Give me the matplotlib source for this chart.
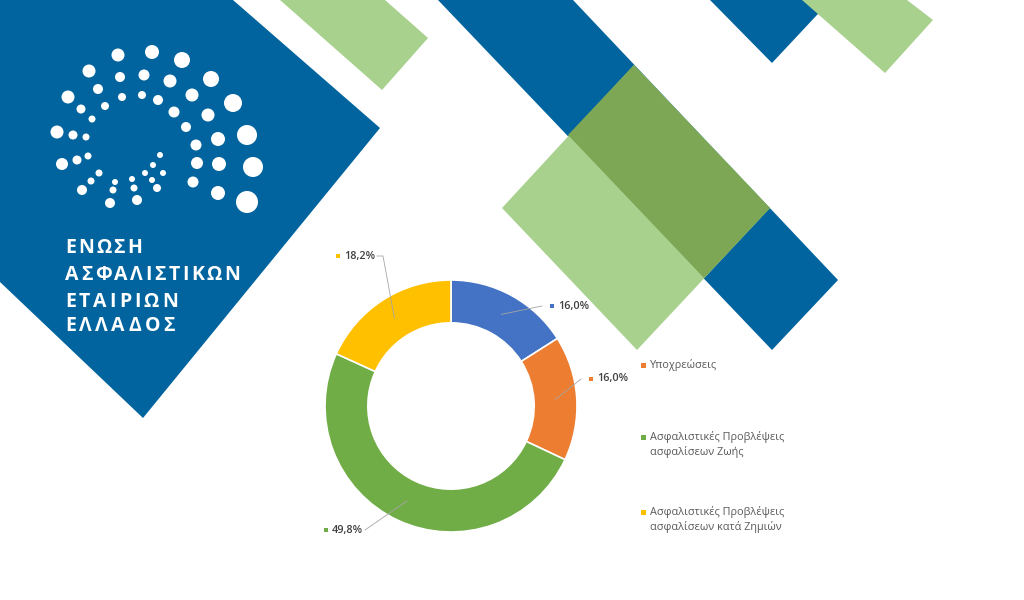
import numpy as np
import matplotlib
matplotlib.use("Agg")
import matplotlib.pyplot as plt
from matplotlib.patches import Polygon, Circle, Rectangle

# ---------------- data ----------------
categories = ["Ίδια Κεφάλαια", "Υποχρεώσεις",
              "Ασφαλιστικές Προβλέψεις\nασφαλίσεων Ζωής",
              "Ασφαλιστικές Προβλέψεις\nασφαλίσεων κατά Ζημιών"]
values = [16.0, 16.0, 49.8, 18.2]
value_labels = ["16,0%", "16,0%", "49,8%", "18,2%"]
colors = ["#4472C4", "#ED7D31", "#70AD47", "#FFC000"]
legend_visible = [False, True, True, True]   # first entry is hidden behind the artwork

logo_lines = ["ΕΝΩΣΗ", "ΑΣΦΑΛΙΣΤΙΚΩΝ", "ΕΤΑΙΡΙΩΝ", "ΕΛΛΑΔΟΣ"]

# ---------------- layout (pixels, y down) ----------------
W, H = 1024, 600
DPI = 100
plt.rcParams['font.family'] = ['Open Sans', 'DejaVu Sans']

fig = plt.figure(figsize=(W / DPI, H / DPI), dpi=DPI)
fig.patch.set_facecolor("white")

# donut axes
cx, cy, R = 451, 406, 126
ax = fig.add_axes([(cx - R) / W, (H - cy - R) / H, 2 * R / W, 2 * R / H])
ring = 0.34
wedges, _ = ax.pie(values, colors=colors, startangle=90, counterclock=False,
                   radius=1.0, wedgeprops=dict(width=ring, edgecolor="white", linewidth=1.2))
ax.set_xlim(-1, 1)
ax.set_ylim(-1, 1)
ax.set_aspect("equal")
ax.axis("off")

# data labels (label anchor position in pixel coords, side)
label_pos = [(558, 306, "right"), (597, 379, "right"), (332, 530, "left"), (344, 256, "left")]
mid_r = 1 - ring / 2

def px2d(x, y):
    return (x - cx) / R, (cy - y) / R

for w, lab, col, (lx, ly, side) in zip(wedges, value_labels, colors, label_pos):
    ang = np.deg2rad((w.theta1 + w.theta2) / 2)
    sx, sy = mid_r * np.cos(ang), mid_r * np.sin(ang)
    tx, ty = px2d(lx, ly)
    ax.text(tx, ty, lab, fontsize=7.8, color="#404040", fontweight="semibold",
            ha="left", va="center", clip_on=False)
    mx, my = px2d(lx - 6, ly)
    ax.add_patch(Rectangle((mx - 2.2 / R, my - 2.2 / R), 4.4 / R, 4.4 / R,
                           facecolor=col, edgecolor="none", clip_on=False))
    if side == "right":
        ex, ey = px2d(lx - 16, ly)
        ax.plot([sx, ex], [sy, ey], color="#A6A6A6", lw=0.6, clip_on=False)
    else:
        ex, ey = px2d(lx + 33, ly)
        if sy > 0:
            kx, ky = px2d(lx + 39, ly)
            ax.plot([sx, kx, ex], [sy, ky, ey], color="#A6A6A6", lw=0.6, clip_on=False)
        else:
            ax.plot([sx, ex], [sy, ey], color="#A6A6A6", lw=0.6, clip_on=False)

# legend (custom)
leg_x = 643
leg_y = [292, 365, 437, 512]
for cat, col, y, vis in zip(categories, colors, leg_y, legend_visible):
    if not vis:
        continue
    lines = cat.split("\n")
    fig.patches.append(Rectangle(((leg_x - 2.5) / W, (H - y - 2.5) / H), 5 / W, 5 / H,
                                 facecolor=col, edgecolor="none", transform=fig.transFigure,
                                 figure=fig))
    for i, ln in enumerate(lines):
        fig.text((leg_x + 7) / W, (H - (y + i * 15)) / H, ln, fontsize=7.8,
                 color="#595959", ha="left", va="center")

# ---------------- decorative background (on top, pixel coords) ----------------
bg = fig.add_axes([0, 0, 1, 1], zorder=5)
bg.set_xlim(0, W)
bg.set_ylim(H, 0)
bg.axis("off")
bg.patch.set_alpha(0)

BLUE = "#02649E"
LGREEN = "#A9D18E"
DGREEN = "#7EA755"

shapes = [
    ([(0, 0), (233, 0), (380, 128), (143, 418), (0, 282)], BLUE),
    ([(280, 0), (385, 0), (428, 38), (382, 90)], LGREEN),
    ([(438, 0), (573, 0), (838, 280), (772, 350)], BLUE),
    ([(502, 208), (634, 65), (770, 208), (637, 350)], LGREEN),
    ([(634, 65), (770, 208), (704, 278), (568, 135)], DGREEN),
    ([(710, 0), (831, 0), (772, 63)], BLUE),
    ([(802, 0), (907, 0), (933, 20), (885, 73)], LGREEN),
]
for pts, col in shapes:
    bg.add_patch(Polygon(pts, closed=True, facecolor=col, edgecolor="none"))

# logo dots (x, y, r)
dots = [
    (118, 55, 6.5), (152, 52, 7), (182, 60, 8),
    (89, 71, 6.5), (120, 77, 5), (144, 75, 5.5), (170, 81, 6.5), (211, 79, 8),
    (68, 97, 6.5), (98, 89, 5), (122, 97, 4), (142, 95, 4), (158, 100, 5), (192, 95, 6.5), (233, 103, 9),
    (81, 109, 4.5), (105, 106, 4), (174, 112, 5.5), (208, 115, 6.5),
    (92, 119, 3.5), (186, 127, 5),
    (57, 132, 6.5), (73, 135, 4.5), (86, 137, 3.5), (218, 139, 7), (247, 135, 10),
    (196, 145, 5.5),
    (62, 164, 6), (77, 160, 4.5), (88, 156, 3.5), (160, 155, 3), (153, 165, 3), (163, 173, 3),
    (197, 163, 6), (219, 164, 7), (253, 167, 10),
    (99, 173, 3.5), (115, 182, 3), (132, 179, 3), (145, 173, 3), (152, 180, 3),
    (91, 181, 3.5), (113, 190, 3.5), (134, 188, 3.5), (157, 188, 4), (193, 182, 5.5),
    (82, 190, 5), (110, 203, 5), (137, 200, 5), (218, 193, 7), (247, 202, 11),
]
for x, y, r in dots:
    bg.add_patch(Circle((x, y), r, facecolor="white", edgecolor="none"))

# logo text with letter spacing
renderer = fig.canvas.get_renderer()
logo_y = [248, 275, 302, 326]
logo_w = [77, 175, 113, 110]
LFS = 14
for line, y, tw in zip(logo_lines, logo_y, logo_w):
    widths = []
    for ch in line:
        t = bg.text(0, 0, ch, fontsize=LFS, fontweight="bold", color="white")
        widths.append(t.get_window_extent(renderer).width)
        t.remove()
    track = (tw - sum(widths)) / (len(line) - 1)
    x = 65
    for ch, wd in zip(line, widths):
        bg.text(x, y, ch, fontsize=LFS, fontweight="bold", color="white",
                ha="left", va="center")
        x += wd + track

fig.savefig("out.png", dpi=DPI, facecolor="white")
